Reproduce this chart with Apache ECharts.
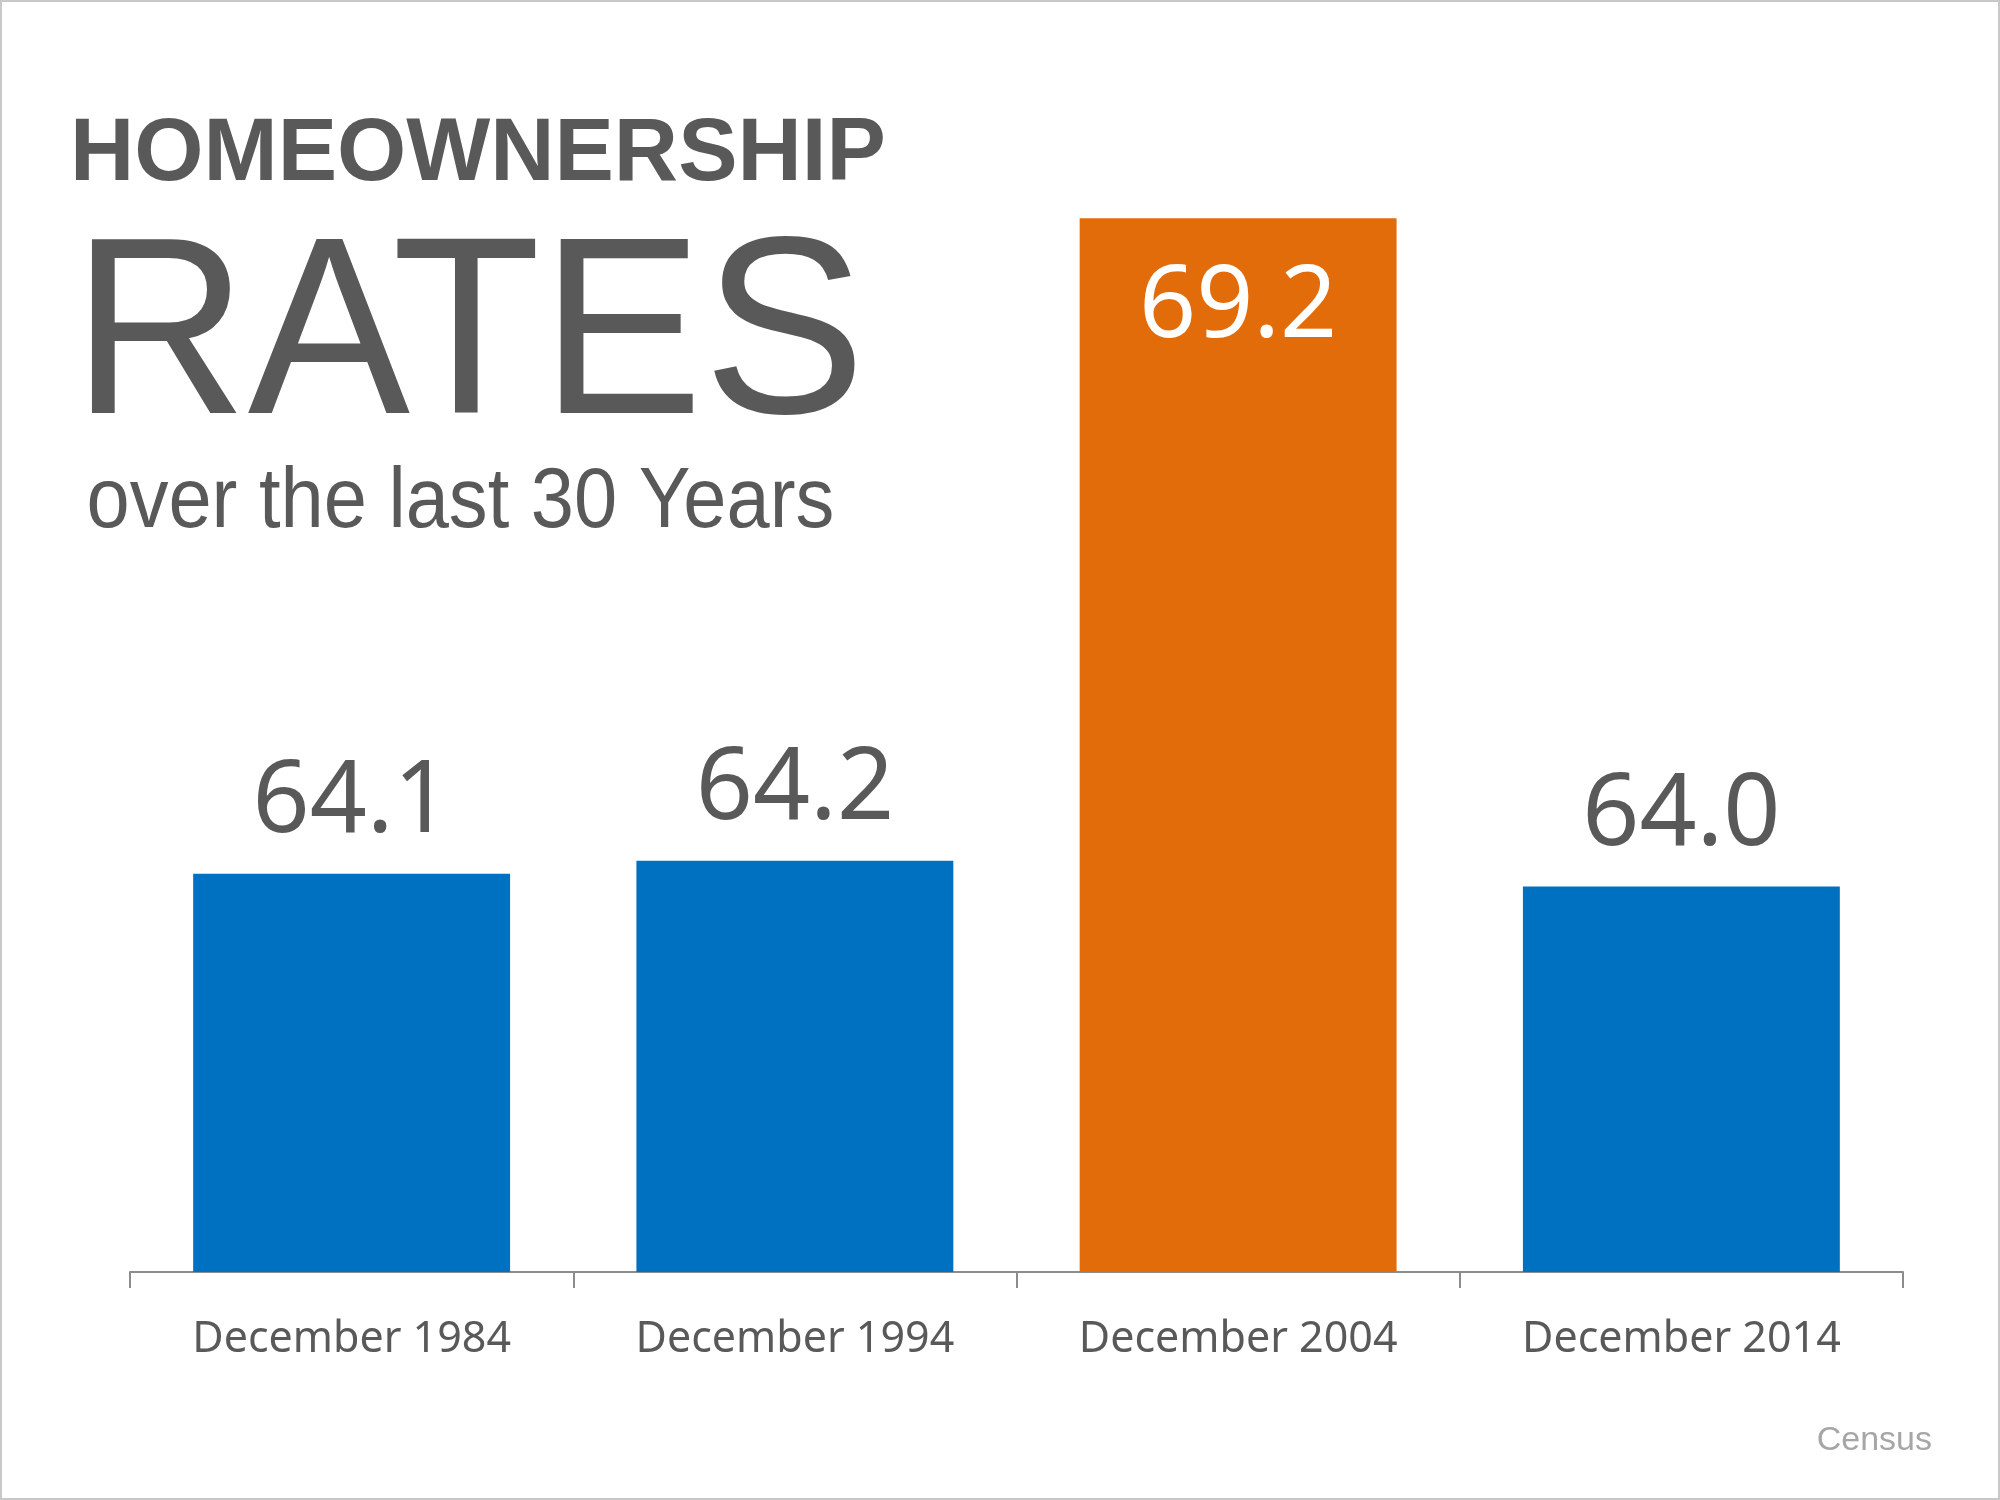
<!DOCTYPE html>
<html>
<head>
<meta charset="utf-8">
<script src="https://cdn.jsdelivr.net/npm/echarts@6/dist/echarts.min.js"></script>
<style>
  html, body { margin: 0; padding: 0; background: #fff; }
  #main { width: 2000px; height: 1500px; }
</style>
</head>
<body>
<div id="main"></div>
<script>
var categories = ['December 1984', 'December 1994', 'December 2004', 'December 2014'];
var rates = [64.1, 64.2, 69.2, 64.0];
var highlight = 2; // the peak year is drawn in orange

var blue = '#0070C0', orange = '#E36C0A', grey = '#595959';

var myChart = echarts.init(document.getElementById('main'));

var barData = rates.map(function (v, i) {
    var item = { value: v };
    if (i === highlight) {
        item.itemStyle = { color: orange };
        // value sits inside the top of the bar in white
        item.label = { position: 'insideTop', distance: 40, color: '#fff' };
    }
    return item;
});

myChart.setOption({
    animation: false,
    backgroundColor: '#fff',
    grid: { left: 130, right: 97, top: 115.5, bottom: 228 },
    xAxis: {
        type: 'category',
        data: categories,
        axisLine: { lineStyle: { color: '#8c8c8c', width: 2 } },
        axisTick: { show: true, length: 16, lineStyle: { color: '#8c8c8c', width: 2 } },
        axisLabel: {
            margin: 46,
            fontFamily: 'Noto Sans',
            fontSize: 43,
            color: grey
        }
    },
    yAxis: {
        type: 'value',
        min: 61,
        max: 70,
        show: false,
        splitLine: { show: false }
    },
    series: [{
        type: 'bar',
        data: barData,
        barCategoryGap: '28.5%',
        itemStyle: { color: blue },
        label: {
            show: true,
            position: 'top',
            distance: 20,
            fontFamily: 'Noto Sans',
            fontSize: 100,
            color: grey,
            formatter: function (p) { return p.value.toFixed(1); }
        }
    }],
    graphic: [
        {   // thin frame round the picture
            type: 'rect',
            shape: { x: 1, y: 1, width: 1998, height: 1498 },
            style: { fill: null, stroke: '#c8c8c8', lineWidth: 2 },
            silent: true
        },
        {
            type: 'text', x: 70, y: 111,
            style: { text: 'HOMEOWNERSHIP', font: 'bold 89px "Liberation Sans"', fill: grey, verticalAlign: 'top' }
        },
        {
            type: 'text', x: 72, y: 218, scaleX: 0.966,
            style: { text: 'RATES', font: '252px "Liberation Sans"', fill: grey, verticalAlign: 'top' }
        },
        {
            type: 'text', x: 86.5, y: 461, scaleX: 0.913,
            style: { text: 'over the last 30 Years', font: '85px "Liberation Sans"', fill: grey, verticalAlign: 'top' }
        },
        {
            type: 'text', right: 68, top: 1424,
            style: { text: 'Census', font: '34px "Liberation Sans"', fill: '#a6a6a6' }
        }
    ]
});
</script>
</body>
</html>
